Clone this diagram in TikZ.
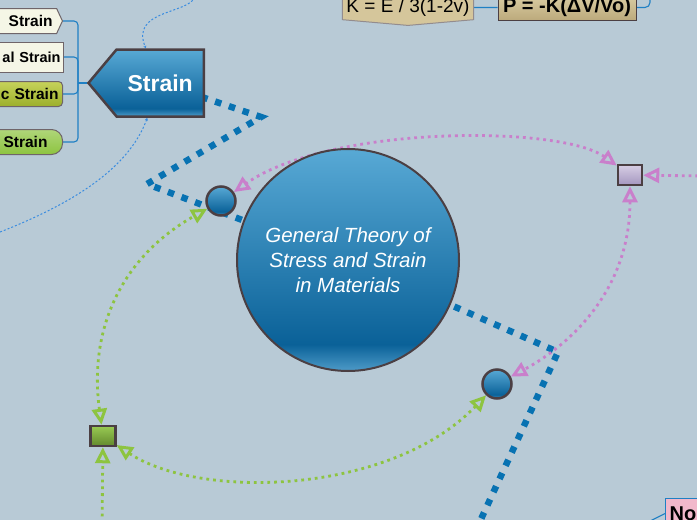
\documentclass[tikz,border=0pt]{standalone}
\usepackage{fontspec}
\setmainfont{Liberation Sans}
\usetikzlibrary{arrows.meta, backgrounds, shapes.symbols}
\definecolor{bg}{HTML}{B8CAD6}
\definecolor{topiclight}{HTML}{58A9D5}
\definecolor{topicdark}{HTML}{0A6198}
\definecolor{lowband}{HTML}{4E9BC8}
\definecolor{rim}{HTML}{4B3F43}
\definecolor{branchblue}{HTML}{0872B2}
\definecolor{linkblue}{HTML}{3A8CE0}
\definecolor{treeblue}{HTML}{1F80C4}
\definecolor{relpink}{HTML}{C97FCB}
\definecolor{relgreen}{HTML}{8DC440}
\definecolor{cream}{HTML}{F5F6E6}
\definecolor{olivetop}{HTML}{C6D25A}
\definecolor{olivebot}{HTML}{9CAF2C}
\definecolor{lavtop}{HTML}{D6CDE4}
\definecolor{lavbot}{HTML}{A497BF}
\definecolor{tan}{HTML}{D5C69B}
\definecolor{tantop}{HTML}{DACDA3}
\definecolor{tanbot}{HTML}{BCAA7C}
\definecolor{notepink}{HTML}{F1B8CB}
\pgfdeclareverticalshading{topicfill}{100bp}{color(0bp)=(lowband); color(25bp)=(lowband); color(31bp)=(topicdark); color(75bp)=(topiclight); color(100bp)=(topiclight)}
\tikzset{
    relhead/.tip={Triangle[open,length=16pt,width=15pt,line width=3pt]},
    topic/.style={circle,draw=rim,line width=2pt,shading=topicfill,text=white,
        font=\itshape\fontsize{20.5}{25}\selectfont,align=center,minimum size=222pt,inner sep=0pt},
    mainnode/.style={signal,signal to=west,signal pointer angle=100,draw=rim,line width=2.5pt,
        shading=topicfill,text=white,font=\bfseries\fontsize{23}{26}\selectfont,
        minimum height=67pt,inner xsep=11pt},
    ball/.style={circle,draw=rim,line width=2.5pt,shading=topicfill,minimum size=29pt,inner sep=0pt},
    pinkbox/.style={draw=rim,line width=2.5pt,top color=lavtop,bottom color=lavbot,
        minimum width=24pt,minimum height=20pt,inner sep=0pt},
    greenbox/.style={draw=rim,line width=2.5pt,top color=relgreen!90!white,bottom color=relgreen!70!black,
        minimum width=25pt,minimum height=20pt,inner sep=0pt},
    leaf/.style={draw=rim!80,line width=1pt,font=\bfseries\fontsize{15.5}{19}\selectfont,
        text width=90pt,align=right,anchor=east,minimum height=25pt},
    leafcream/.style={leaf,signal,signal to=east,signal pointer angle=130,fill=cream,inner xsep=4pt},
    leafplain/.style={leaf,fill=cream,minimum height=30pt,inner xsep=3pt,font=\bfseries\fontsize{14.5}{19}\selectfont},
    leafolive/.style={leaf,rounded corners=4pt,top color=olivetop,bottom color=olivebot,inner xsep=4pt},
    leafgreen/.style={leaf,rounded corners=11pt,top color=relgreen!70!white,bottom color=relgreen,inner xsep=15pt},
    kbox/.style={signal,signal to=south,signal pointer angle=170,draw=rim!60,line width=1pt,
        fill=tan,font=\fontsize{19}{22}\selectfont,minimum height=24pt,inner xsep=4pt},
    pbox/.style={draw=rim,line width=1pt,top color=tantop,bottom color=tanbot,
        font=\bfseries\fontsize{20}{22}\selectfont,minimum height=25pt,minimum width=138pt,inner sep=0pt},
    nobox/.style={draw=treeblue,line width=1.2pt,fill=notepink,font=\bfseries\fontsize{20}{22}\selectfont,
        minimum height=30pt,inner xsep=4pt},
    branch/.style={draw=branchblue,line width=6.5pt,dash pattern=on 6.5pt off 8pt},
    tree/.style={draw=treeblue,line width=1.1pt},
    link/.style={draw=linkblue,line width=1pt,dash pattern=on 2pt off 2pt},
    rel/.style={line width=2.8pt,dash pattern=on 2.8pt off 4pt},
    pinkrel/.style={rel,draw=relpink},
    greenrel/.style={rel,draw=relgreen},
}

\begin{document}
\begin{tikzpicture}[x=1pt,y=-1pt]
\useasboundingbox (0,0) rectangle (697,520);
\clip (0,0) rectangle (697,520);
% topics
\node[topic] (gt) at (348,260) {General Theory of\\Stress and Strain\\in Materials};
\node[mainnode,anchor=east] (st) at (205,83) {Strain};
\node[ball] (b1) at (221,201) {};
\node[ball] (b2) at (497,384) {};
\node[pinkbox] (sq1) at (630,175) {};
\node[greenbox] (sq2) at (103,436) {};
% strain children
\node[leafcream] (la) at (63,21) {Strain};
\node[leafplain] (lb) at (64,57) {al Strain};
\node[leafolive] (lc) at (63,94) {c Strain};
\node[leafgreen] (ld) at (63,142) {Strain};
% top and corner boxes
\node[kbox] (kb) at (408,7.5) {K = E / 3(1-2v)};
\node[pbox] (pb) at (567,7.5) {P = -K(ΔV/Vo)};
\node[nobox,anchor=north west] (no) at (665,498) {No};
\coordinate (fork) at (78,83);
\coordinate (k1) at (261,117);
\coordinate (k2) at (147,184);
\coordinate (k3) at (558,352);
\coordinate (k4) at (476,530);
\coordinate (ltop) at (195,-3);
\coordinate (lbot) at (-5,234);
\coordinate (pin) at (705,176);
\coordinate (gin) at (102,530);
\coordinate (pout) at (650,-8);
\coordinate (nin) at (640,526);
\scoped[on background layer]{
    \fill[bg] (0,0) rectangle (697,520);
    \draw[branch] (st.center) -- (k1) -- (k2) -- (gt.center);
    \draw[branch] (gt.center) -- (k3) -- (k4);
    \draw[pinkrel,relhead-relhead] (sq1) .. controls (560,125) and (330,125) .. (b1);
    \draw[pinkrel,relhead-relhead] (sq1) .. controls (630,290) and (570,345) .. (b2);
    \draw[pinkrel,-relhead] (pin) -- (sq1);
    \draw[greenrel,relhead-relhead] (sq2) .. controls (88,325) and (125,255) .. (b1);
    \draw[greenrel,relhead-relhead] (sq2) .. controls (200,500) and (390,495) .. (b2);
    \draw[greenrel,-relhead] (gin) -- (sq2);
    \draw[link,-{Stealth[length=3pt,width=3pt]}] (ltop) .. controls (188,14) and (130,10) .. (st);
    \draw[link,{Stealth[length=3pt,width=3pt]}-] (st) .. controls (128,170) and (70,205) .. (lbot);
    \draw[tree] (st.west) -- (fork);
    \draw[tree,rounded corners=4pt] (fork) |- (la.east);
    \draw[tree,rounded corners=4pt] (fork) |- (lb.east);
    \draw[tree,rounded corners=4pt] (fork) |- (lc.east);
    \draw[tree,rounded corners=4pt] (fork) |- (ld.east);
    \draw[tree] (kb) -- (pb);
    \draw[tree,rounded corners=5pt] (pb) -| (pout);
    \draw[tree] (nin) -- (no.west);
}
\end{tikzpicture}
\end{document}
